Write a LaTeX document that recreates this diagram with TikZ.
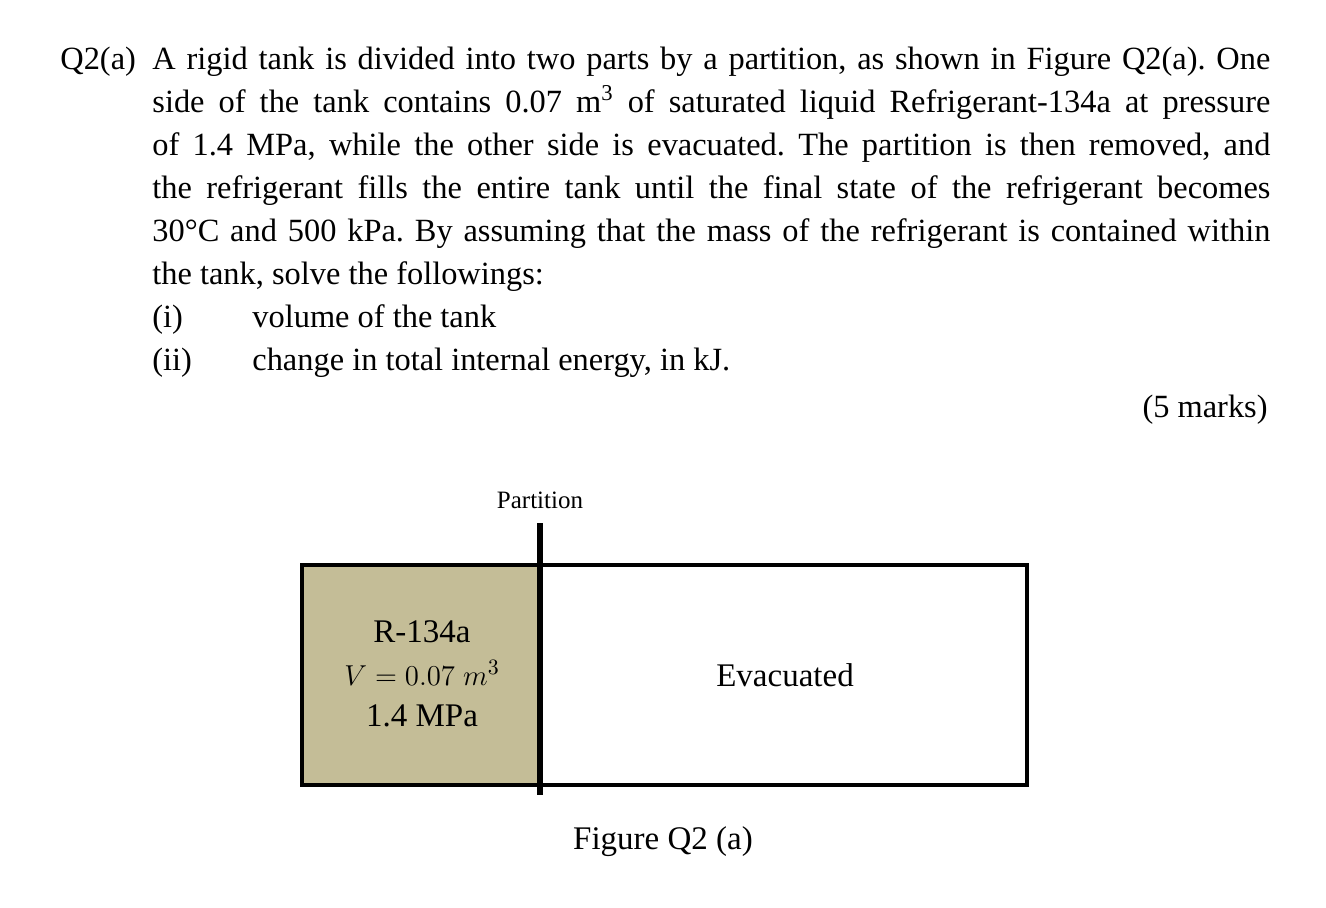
\documentclass[tikz,border=0pt]{standalone}
\usepackage{fontspec}
\setmainfont{Liberation Serif}
\frenchspacing
\begin{document}
\begin{tikzpicture}[x=0.5pt,y=-0.5pt,
  txt/.style={anchor=base west,inner sep=0pt,font=\fontsize{16.2}{18}\selectfont},
  lbl/.style={inner sep=0pt,font=\fontsize{16.5}{18}\selectfont}]
\useasboundingbox (0,0) rectangle (1326,908);
\node[txt] (q) at (60,70) {Q2(a)};
\newcommand{\qline}[3]{\node[txt] (#1) at (152,#2) {#3};}
\newcommand{\lw}[1]{\makebox[559pt][s]{#1}}
\qline{l1}{70}{\lw{A rigid tank is divided into two parts by a partition, as shown in Figure Q2(a). One}}
\qline{l2}{113}{\lw{side of the tank contains 0.07 m\textsuperscript{3} of saturated liquid Refrigerant-134a at pressure}}
\qline{l3}{156}{\lw{of 1.4 MPa, while the other side is evacuated. The partition is then removed, and}}
\qline{l4}{199}{\lw{the refrigerant fills the entire tank until the final state of the refrigerant becomes}}
\qline{l5}{242}{\lw{30°C and 500 kPa. By assuming that the mass of the refrigerant is contained within}}
\qline{l6}{285}{the tank, solve the followings:}
\qline{i1}{328}{(i)}
\qline{i2}{371}{(ii)}
\node[txt] (t1) at (252,328) {volume of the tank};
\node[txt] (t2) at (252,371) {change in total internal energy, in kJ.};
\node[txt,anchor=base east] (m) at (1268,418) {(5 marks)};
\fill[fill={rgb,255:red,196;green,189;blue,151}] (302,565) rectangle (540,785);
\draw[line width=2pt] (302,565) rectangle (1027,785);
\draw[line width=3pt] (540,523) -- (540,795);
\node[lbl,font=\fontsize{12.5}{14}\selectfont] (p) at (540,500) {Partition};
\node[lbl] (a) at (422,632) {R-134a};
\node[lbl,font=\fontsize{15.5}{18}\selectfont] (b) at (422,673) {$V = 0.07\;m^3$};
\node[lbl] (c) at (422,716) {1.4 MPa};
\node[lbl] (e) at (785,675) {Evacuated};
\node[lbl] (f) at (663,842) {Figure Q2 (a)};
\end{tikzpicture}
\end{document}
